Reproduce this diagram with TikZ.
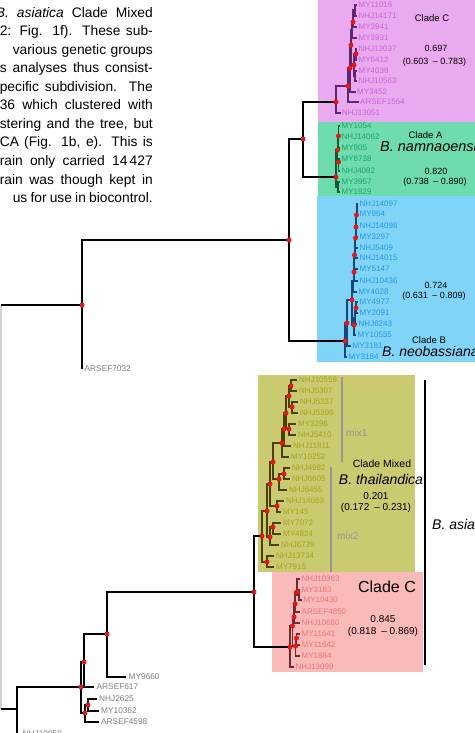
\documentclass[tikz,border=0pt]{standalone}
\usepackage{fontspec}
\setmainfont{Liberation Sans}
\usetikzlibrary{positioning}

\definecolor{violetbox}{RGB}{234,170,240}
\definecolor{violetlab}{RGB}{200,100,215}
\definecolor{violettree}{RGB}{95,40,110}
\definecolor{greenbox}{RGB}{110,220,172}
\definecolor{greenlab}{RGB}{25,165,110}
\definecolor{greentree}{RGB}{10,90,55}
\definecolor{bluebox}{RGB}{128,212,248}
\definecolor{bluelab}{RGB}{40,150,230}
\definecolor{bluetree}{RGB}{25,70,115}
\definecolor{olivebox}{RGB}{202,202,112}
\definecolor{olivelab}{RGB}{165,165,25}
\definecolor{olivetree}{RGB}{75,65,10}
\definecolor{pinkbox}{RGB}{250,186,186}
\definecolor{pinklab}{RGB}{240,115,115}
\definecolor{pinktree}{RGB}{115,40,45}
\definecolor{leafgray}{RGB}{125,125,125}
\definecolor{mixgray}{RGB}{150,150,150}
\definecolor{dotred}{RGB}{232,22,22}

\tikzset{
  branch/.style={line width=1.3pt},
  backbone/.style={line width=1.8pt, black},
  support/.style={circle, fill=dotred, inner sep=0pt, minimum size=5pt},
  tip/.style={anchor=west, inner sep=0pt, font=\fontsize{8}{8}\selectfont},
  para/.style={anchor=mid east, inner sep=0pt, font=\fontsize{13.8}{13.8}\selectfont},
  cladelab/.style={inner sep=0pt, font=\fontsize{9.5}{9.5}\selectfont},
  numlab/.style={inner sep=0pt, font=\fontsize{9}{9}\selectfont},
  specieslab/.style={inner sep=0pt, font=\fontsize{14}{14}\selectfont\itshape},
  mixlab/.style={anchor=west, inner sep=0pt, text=mixgray, font=\fontsize{10}{10}\selectfont},
}

\begin{document}
\begin{tikzpicture}[x=1pt, y=-1pt]
\useasboundingbox (0,0) rectangle (474,733);

% text of the page beside the tree
\foreach \y/\w/\t in {15/157/{\textit{B. asiatica} Clade Mixed}, 33/153/{2: Fig. 1f). These sub-},
    52/140/{various genetic groups}, 70/153/{s analyses thus consist-}, 89/153/{pecific subdivision. The},
    107/153/{36 which clustered with}, 126/153/{stering and the tree, but}, 144/153/{CA (Fig. 1b, e). This is},
    163/153/{rain only carried 14\,427}, 182/153/{rain was though kept in}, 200/140/{us for use in biocontrol.}}
  \node[para] (par\y) at (153,\y) {\makebox[\w pt][s]{\t}};

% clade boxes
\fill[violetbox] (318,-5) rectangle (480,122.5);
\fill[greenbox] (318,122.5) rectangle (480,195.5);
\fill[bluebox] (317,196) rectangle (480,362);
\fill[olivebox] (258,375) rectangle (415,572);
\fill[pinkbox] (272,572) rectangle (423,672);

% Clade C (top)
\foreach \t/\x/\y in {MY11016/357/5, NHJ14171/357/16, MY3941/357/27, MY3931/357/38,
    NHJ13037/357/49, MY6412/357/60, MY4038/357/71, NHJ10563/357/81, MY3452/355.5/92,
    ARSEF1564/358.5/102, NHJ13051/340.5/113}{
  \coordinate (\t) at (\x,\y);
  \node[tip, text=violetlab] (lab\t) at (\x+1.5,\y) {\t};
}
\foreach \n/\x/\y in {vn1/355/10, vn2/353/22, vn6/352/30, vn3/356/54, vn4/355/76,
    vn5/354/65, vn7/351/45, vn8/350/68, vn9/348/86, vn10/336/102}
  \coordinate (\n) at (\x,\y);
\foreach \p/\c in {vn1/MY11016, vn1/NHJ14171, vn2/vn1, vn2/MY3941, vn6/vn2, vn6/MY3931,
    vn3/NHJ13037, vn3/MY6412, vn4/MY4038, vn4/NHJ10563, vn5/vn3, vn5/vn4, vn7/vn6,
    vn7/vn5, vn8/vn7, vn8/MY3452, vn9/vn8, vn9/ARSEF1564, vn10/vn9, vn10/NHJ13051}
  \draw[branch, violettree] (\p) |- (\c);

% Clade A
\foreach \t/\y in {MY1054/126, NHJ14062/137, MY805/148, MY8738/159, NHJ4082/171,
    MY3957/182, MY1829/192}{
  \coordinate (\t) at (340,\y);
  \node[tip, text=greenlab] (lab\t) at (341.5,\y) {\t};
}
\foreach \n/\x/\y in {an1/338.5/136, an2/338/142, an3/338.5/162, an4/337.5/150,
    an5/338/187, an6/336/177}
  \coordinate (\n) at (\x,\y);
\foreach \p/\c in {an1/MY1054, an1/NHJ14062, an2/an1, an2/MY805, an3/MY8738,
    an3/NHJ4082, an4/an2, an4/an3, an5/MY3957, an5/MY1829, an6/an4, an6/an5}
  \draw[branch, greentree] (\p) |- (\c);

% Clade B
\foreach \t/\x/\y in {NHJ14097/358/204, MY964/358/214, NHJ14098/358/226, MY3297/358/237,
    NHJ5409/358/248, NHJ14015/358/258, MY5147/358/269, NHJ10436/358/281, MY4028/357/292,
    MY4977/358/302, MY2091/358/313, NHJ6243/357/324, MY10555/356/335, MY3181/351/346,
    MY3184/347/357}{
  \coordinate (\t) at (\x,\y);
  \node[tip, text=bluelab] (lab\t) at (\x+1.5,\y) {\t};
}
\foreach \n/\x/\y in {bn1/357/209, bn2/356.5/215, bn3/356/227, bn4/355.5/238,
    bn5/355/248, bn6/354.5/255, bn7/354/272, bn8/353.5/281, bn9/356/308, bn10/355/318,
    bn11/354/325, bn12/352/300, bn13/347/323, bn14/345/341}
  \coordinate (\n) at (\x,\y);
\foreach \p/\c in {bn1/NHJ14097, bn1/MY964, bn2/bn1, bn2/NHJ14098, bn3/bn2, bn3/MY3297,
    bn4/bn3, bn4/NHJ5409, bn5/bn4, bn5/NHJ14015, bn6/bn5, bn6/MY5147, bn7/bn6,
    bn7/NHJ10436, bn8/bn7, bn8/MY4028, bn9/MY4977, bn9/MY2091, bn10/bn9, bn10/NHJ6243,
    bn11/bn10, bn11/MY10555, bn12/bn8, bn12/bn11, bn13/bn12, bn13/MY3181, bn14/bn13,
    bn14/MY3184}
  \draw[branch, bluetree] (\p) |- (\c);

% Clade Mixed
\foreach \t/\x/\y in {NHJ10559/297/380, NHJ5307/297/391, NHJ5337/298/402, NHJ5306/298/413,
    MY3296/296/424, NHJ5410/296/435, NHJ11811/291/446, MY10252/289/457, NHJ4982/290/468,
    NHJ6605/290/479, NHJ6455/287/490, NHJ14063/284/501, MY145/281/512, MY7072/281/523,
    MY4824/281/534, NHJ6739/279/545, NHJ13734/274/556, MY7915/274/567}{
  \coordinate (\t) at (\x,\y);
  \node[tip, text=olivelab] (lab\t) at (\x+2,\y) {\t};
}
\foreach \n/\x/\y in {mn1/291/386, mn2/292/407, mn3/289/396, mn4/289/429, mn5/286/413,
    mn6/284/429, mn7/282/443, mn8/284/474, mn9/279/479, mn11/273/462, mn10/277/506,
    mn12/270/484, mn13/273/527, mn14/270/537, mn15/267/511, mn16/267/562, mn17/262/536}
  \coordinate (\n) at (\x,\y);
\foreach \p/\c in {mn1/NHJ10559, mn1/NHJ5307, mn2/NHJ5337, mn2/NHJ5306, mn3/mn1, mn3/mn2,
    mn4/MY3296, mn4/NHJ5410, mn5/mn3, mn5/mn4, mn6/mn5, mn6/NHJ11811, mn7/mn6,
    mn7/MY10252, mn8/NHJ4982, mn8/NHJ6605, mn9/mn8, mn9/NHJ6455, mn11/mn7, mn11/mn9,
    mn10/NHJ14063, mn10/MY145, mn12/mn11, mn12/mn10, mn13/MY7072, mn13/MY4824,
    mn14/mn13, mn14/NHJ6739, mn15/mn12, mn15/mn14, mn16/NHJ13734, mn16/MY7915,
    mn17/mn15, mn17/mn16}
  \draw[branch, olivetree] (\p) |- (\c);

% Clade C (bottom)
\foreach \t/\x/\y in {NHJ10363/300/579, MY3183/300/590, MY10430/302/600, ARSEF4850/300/612,
    NHJ10680/300/623, MY11641/300/634, MY11642/300/645, MY1884/300/656, NHJ13099/294/667}{
  \coordinate (\t) at (\x,\y);
  \node[tip, text=pinklab] (lab\t) at (\x+1.5,\y) {\t};
}
\foreach \n/\x/\y in {pn1/299/595, pn2/297/592, pn3/295/604, pn4/294/617, pn5/296.5/638,
    pn6/295.5/646, pn7/292.5/626, pn8/290/647}
  \coordinate (\n) at (\x,\y);
\foreach \p/\c in {pn1/MY3183, pn1/MY10430, pn2/NHJ10363, pn2/pn1, pn3/pn2, pn3/ARSEF4850,
    pn4/pn3, pn4/NHJ10680, pn5/MY11641, pn5/MY11642, pn6/pn5, pn6/MY1884, pn7/pn4,
    pn7/pn6, pn8/pn7, pn8/NHJ13099}
  \draw[branch, pinktree] (\p) |- (\c);

% backbone
\foreach \t/\x/\y in {ARSEF7032/82/369, MY9660/126/677, ARSEF617/94/687, NHJ2625/96.5/699,
    MY10362/98.5/711, ARSEF4598/98.5/722, NHJ10959/20/734}{
  \coordinate (\t) at (\x,\y);
  \node[tip, text=leafgray, font=\fontsize{8.3}{8.3}\selectfont] (lab\t) at (\x+2.5,\y) {\t};
}
\foreach \n/\x/\y in {gn1/88/705, gn2/85/713, gt/254/592, gn3/107/634, gn4/84/662,
    gn5/81/687, gn6/17/709, gu1/303/139, gu2/289/240, gu3/82/305, groot/0.8/500}
  \coordinate (\n) at (\x,\y);
\foreach \p/\c in {gn1/NHJ2625, gn1/MY10362, gn2/gn1, gn2/ARSEF4598}
  \draw[branch, black] (\p) |- (\c);
\foreach \p/\c in {gt/mn17, gt/pn8, gn3/gt, gn3/MY9660, gn4/gn3, gn4/ARSEF617, gn5/gn4,
    gn5/gn2, gn6/gn5, gn6/NHJ10959, gu1/vn10, gu1/an6, gu2/gu1, gu2/bn14, gu3/gu2,
    gu3/ARSEF7032}
  \draw[backbone] (\p) |- (\c);
\draw[backbone, gray!35] (gu3 -| groot) -- (gn6 -| groot);
\draw[backbone] (gu3 -| groot) -- (gu3);
\draw[backbone] (gn6 -| groot) -- (gn6);

% support dots
\foreach \n in {vn2, vn3, vn5, vn7, vn8, vn9, vn10, an1, an3, an4, an6, bn2, bn3, bn4,
    bn6, bn7, bn9, bn11, bn12, bn13, bn14, mn1, mn2, mn3, mn4, mn5, mn6, mn7, mn8, mn9,
    mn10, mn11, mn12, mn13, mn14, mn15, mn16, mn17, pn2, pn3, pn4, pn5, pn6, pn7, pn8,
    gn1, gn2, gt, gn3, gn4, gn5, gu1, gu2, gu3}
  \node[support] (s\n) at (\n) {};

% mix bars and asiatica bar
\coordinate (mix1top) at (342,377);
\coordinate (mix1bot) at (342,462);
\coordinate (mix2top) at (331,467);
\coordinate (mix2bot) at (331,572);
\coordinate (bartop) at (425,380);
\coordinate (barbot) at (425,665);
\draw[mixgray, line width=1.4pt] (mix1top) -- (mix1bot);
\draw[mixgray, line width=1.4pt] (mix2top) -- (mix2bot);
\draw[black, line width=2.5pt] (bartop) -- (barbot);
\node[mixlab] (mix1) at (346,433) {mix1};
\node[mixlab] (mix2) at (337,536) {mix2};

% clade labels
\node[cladelab] (cCtop) at (432,18) {Clade C};
\node[numlab] (cCtopv) at (436,48) {0.697};
\node[numlab] (cCtopr) at (434.5,62) {(0.603\enspace--\ 0.783)};
\node[cladelab] (cA) at (425.5,135) {Clade A};
\node[specieslab, font=\fontsize{14.5}{14.5}\selectfont\itshape, anchor=west] (spA) at (380,146) {B. namnaoensis};
\node[numlab] (cAv) at (436,171) {0.820};
\node[numlab] (cAr) at (435,182) {(0.738\enspace--\ 0.890)};
\node[numlab] (cBv) at (436,285) {0.724};
\node[numlab] (cBr) at (434,296) {(0.631\enspace--\ 0.809)};
\node[cladelab] (cB) at (429,340) {Clade B};
\node[specieslab, anchor=west] (spB) at (382,351) {B. neobassiana};
\node[cladelab, font=\fontsize{10.5}{10.5}\selectfont] (cM) at (382,464) {Clade Mixed};
\node[specieslab] (spM) at (381,479) {B. thailandica};
\node[numlab, font=\fontsize{10}{10}\selectfont] (cMv) at (376,496) {0.201};
\node[numlab, font=\fontsize{10}{10}\selectfont] (cMr) at (376,508) {(0.172\enspace--\ 0.231)};
\node[cladelab, font=\fontsize{16}{16}\selectfont] (cCbot) at (387,587) {Clade C};
\node[numlab, font=\fontsize{10}{10}\selectfont] (cCbotv) at (383,619) {0.845};
\node[numlab, font=\fontsize{10}{10}\selectfont] (cCbotr) at (383,632) {(0.818\enspace--\ 0.869)};
\node[specieslab, anchor=west] (spAs) at (432,524) {B. asiatica};
\end{tikzpicture}
\end{document}
